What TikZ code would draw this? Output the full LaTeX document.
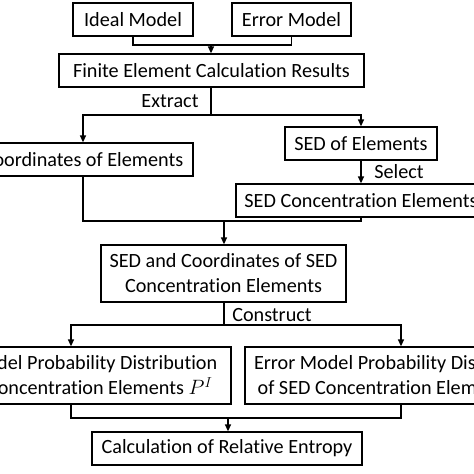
\documentclass[tikz,border=0pt]{standalone}
\usepackage{fontspec}
\setmainfont{Carlito}[Ligatures=NoCommon]
\usetikzlibrary{arrows.meta}
\begin{document}
\begin{tikzpicture}[x=1pt,y=-1pt,
  box/.style={draw,line width=1.3pt,inner sep=0pt,align=center,
    font=\fontsize{20.2}{25}\selectfont},
  lbl/.style={inner sep=0pt,font=\fontsize{20.2}{25}\selectfont},
  conn/.style={line width=1.3pt},
  arr/.style={line width=1.3pt,-{Triangle[length=7pt,width=6pt]}}]
\useasboundingbox (0,0) rectangle (474,474);
\clip (0,0) rectangle (474,474);
\fill[white] (0,0) rectangle (474,474);
% boxes
\node[box,minimum width=120pt,minimum height=33pt] (ideal) at (133,19.5) {Ideal Model};
\node[box,minimum width=119pt,minimum height=33pt] (error) at (291.5,19.5) {Error Model};
\node[box,minimum width=305pt,minimum height=33pt] (fe) at (211.5,70.5) {Finite Element Calculation Results};
\node[box,minimum width=220pt,minimum height=33pt] (coord) at (83,159.5) {Coordinates of Elements};
\node[box,minimum width=152pt,minimum height=33pt] (sedel) at (361,143.5) {SED of Elements};
\node[box,minimum width=250pt,minimum height=33pt] (sedconc) at (361,200.5) {SED Concentration Elements};
\node[box,minimum width=245pt,minimum height=57pt] (sedcoord) at (223.5,273.5) {SED and Coordinates of SED\\Concentration Elements};
\node[box,minimum width=320pt,minimum height=57pt] (idealP) at (71,375.5) {Ideal Model Probability Distribution\\of SED Concentration Elements $P^{I}$};
\node[box,minimum width=312pt,minimum height=57pt] (errorP) at (401,375.5) {Error Model Probability Distribution\\of SED Concentration Elements $P^{E}$};
\node[box,minimum width=270pt,minimum height=33pt] (calc) at (227,448.5) {Calculation of Relative Entropy};
% junction coordinates
\coordinate (j1) at (211,45);
\coordinate (j2) at (211,115);
\coordinate (j3) at (224,221);
\coordinate (j4) at (224,325);
\coordinate (j5) at (228,418);
% connectors
\draw[conn] (ideal.south) |- (j1) -| (error.south);
\draw[arr] (j1) -- (j1 |- fe.north);
\draw[conn] (j1 |- fe.south) -- (j2);
\draw[arr] (j2) -| (coord.north);
\draw[arr] (j2) -| (sedel.north);
\draw[arr] (sedel.south) -- (sedconc.north);
\draw[conn] (coord.south) |- (j3) -| (sedconc.south);
\draw[arr] (j3) -- (j3 |- sedcoord.north);
\draw[conn] (j4 |- sedcoord.south) -- (j4);
\draw[arr] (j4) -| (idealP.north);
\draw[arr] (j4) -| (errorP.north);
\draw[conn] (idealP.south) |- (j5) -| (errorP.south);
\draw[arr] (j5) -- (j5 |- calc.north);
% labels
\node[lbl] (lext) at (170,101) {Extract};
\node[lbl] (lsel) at (399,172) {Select};
\node[lbl] (lcon) at (272,315) {Construct};
\end{tikzpicture}
\end{document}
